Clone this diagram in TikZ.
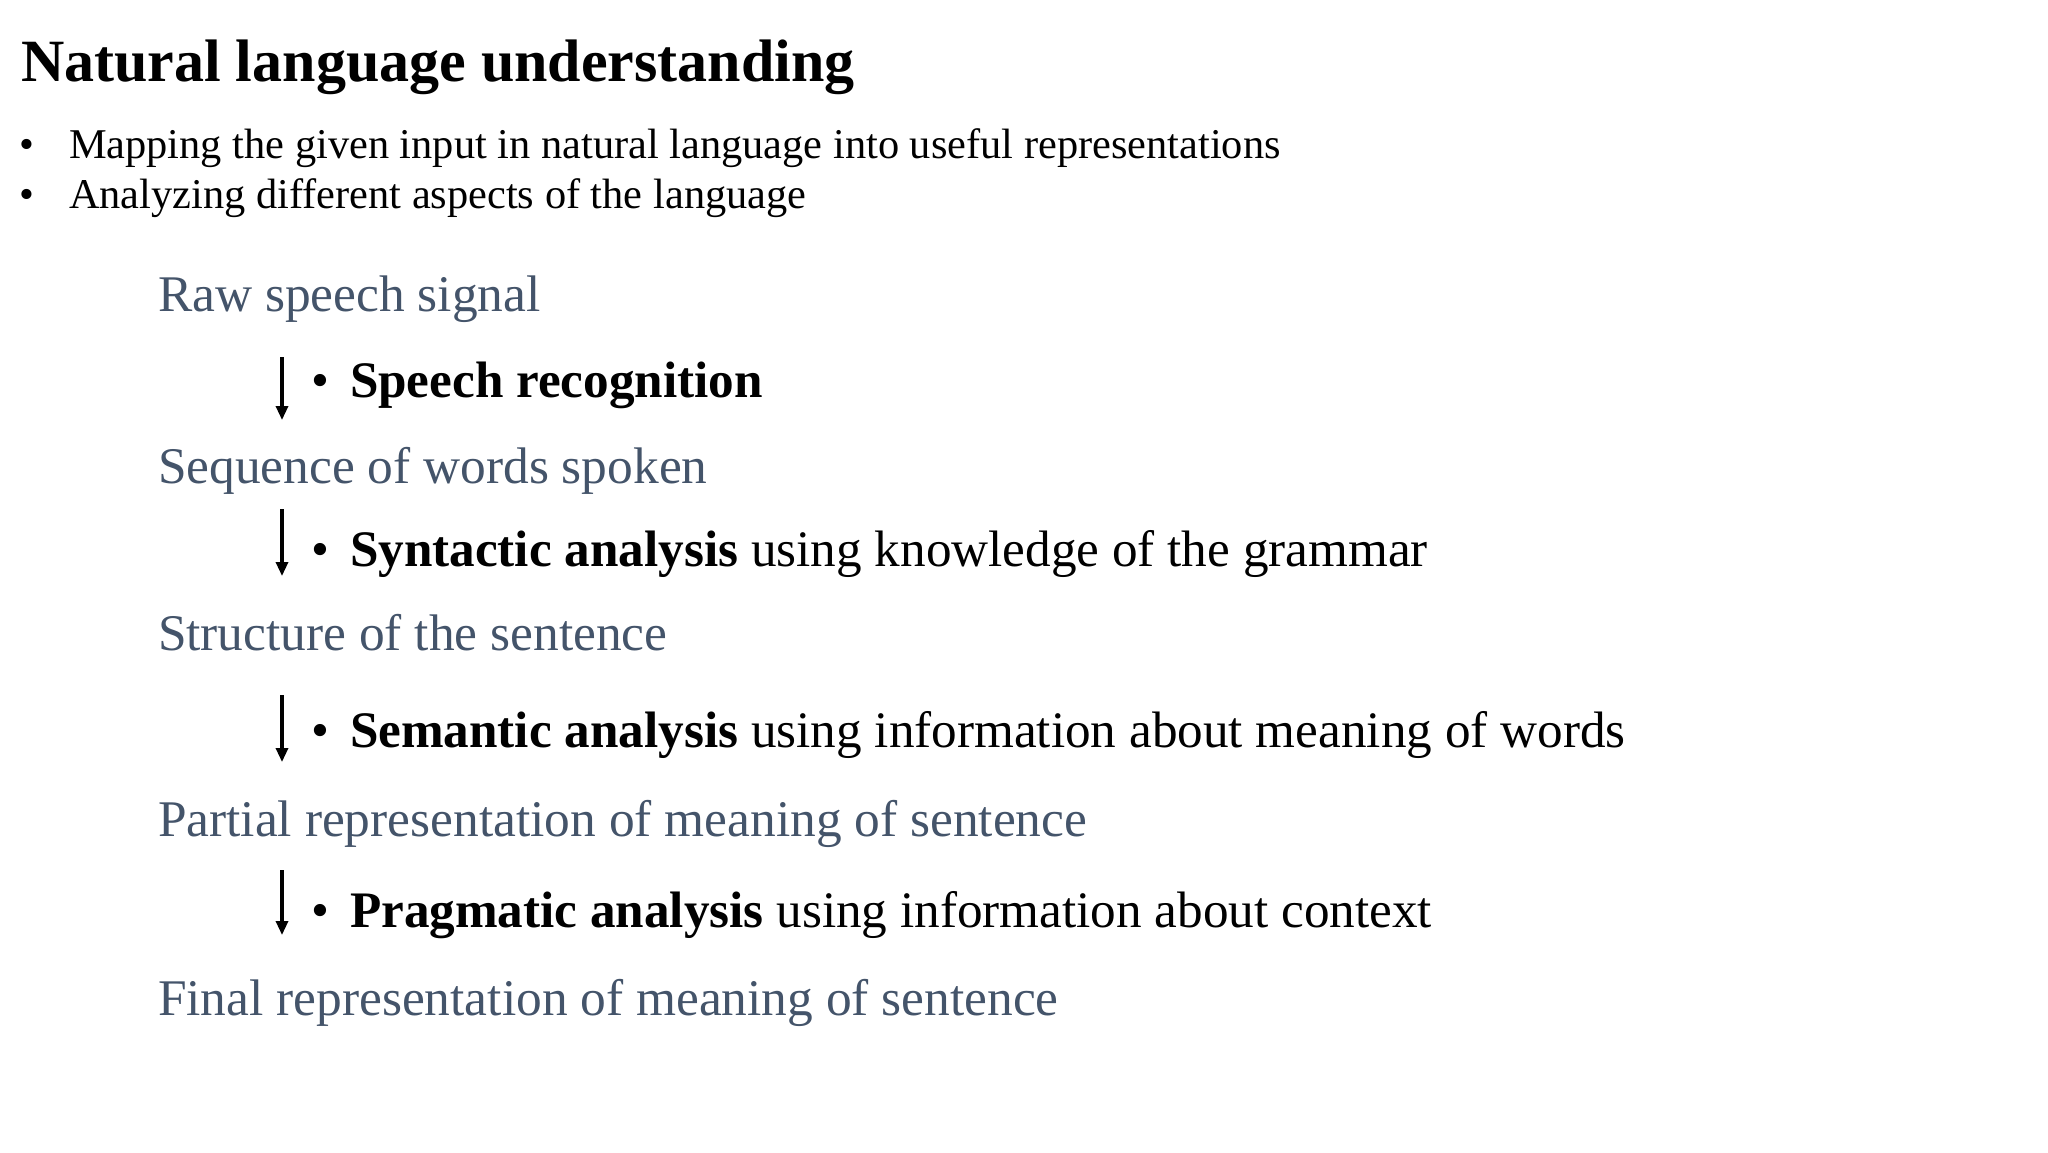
\documentclass[tikz,border=0pt]{standalone}
\usepackage{fontspec}
\setmainfont{Liberation Serif}
\usetikzlibrary{arrows.meta}
\definecolor{stagegray}{HTML}{44546A}
\tikzset{
  txt/.style={anchor=base west, inner sep=0pt, outer sep=0pt},
  titletxt/.style={txt, font=\fontsize{30pt}{36pt}\selectfont\bfseries},
  toptxt/.style={txt, font=\fontsize{21.2pt}{26pt}\selectfont},
  stagetxt/.style={txt, text=stagegray, font=\fontsize{25.7pt}{31pt}\selectfont},
  steptxt/.style={txt, font=\fontsize{25.6pt}{31pt}\selectfont},
  flow/.style={line width=1.6pt, -{Triangle[length=7pt, width=6pt]}}
}
\begin{document}
\begin{tikzpicture}[x=0.5pt, y=-0.5pt]
\useasboundingbox[fill=white] (0,0) rectangle (2048,1152);
\node[titletxt] (title) at (21,81) {Natural language understanding};
\node[toptxt] (b1) at (19,158) {•};
\node[toptxt] (t1) at (69,158) {Mapping the given input in natural language into useful representations};
\node[toptxt] (b2) at (19,208) {•};
\node[toptxt] (t2) at (69,208) {Analyzing different aspects of the language};

\node[stagetxt] (s1) at (158,311) {Raw speech signal};
\node[stagetxt] (s2) at (158,483) {Sequence of words spoken};
\node[stagetxt] (s3) at (158,650) {Structure of the sentence};
\node[stagetxt] (s4) at (158,836) {Partial representation of meaning of sentence};
\node[stagetxt] (s5) at (158,1015) {Final representation of meaning of sentence};

\node[steptxt] (p1b) at (311,397) {•};
\node[steptxt] (p1) at (350,397) {\textbf{Speech recognition}};
\node[steptxt] (p2b) at (311,566) {•};
\node[steptxt] (p2) at (350,566) {\textbf{Syntactic analysis} using knowledge of the grammar};
\node[steptxt] (p3b) at (311,747) {•};
\node[steptxt] (p3) at (350,747) {\textbf{Semantic analysis} using information about meaning of words};
\node[steptxt] (p4b) at (311,927) {•};
\node[steptxt] (p4) at (350,927) {\textbf{Pragmatic analysis} using information about context};

\coordinate (a1s) at (282,357); \coordinate (a1e) at (282,420);
\coordinate (a2s) at (282,509); \coordinate (a2e) at (282,576);
\coordinate (a3s) at (282,695); \coordinate (a3e) at (282,762);
\coordinate (a4s) at (282,870); \coordinate (a4e) at (282,935);
\draw[flow] (a1s) -- (a1e);
\draw[flow] (a2s) -- (a2e);
\draw[flow] (a3s) -- (a3e);
\draw[flow] (a4s) -- (a4e);
\end{tikzpicture}
\end{document}
